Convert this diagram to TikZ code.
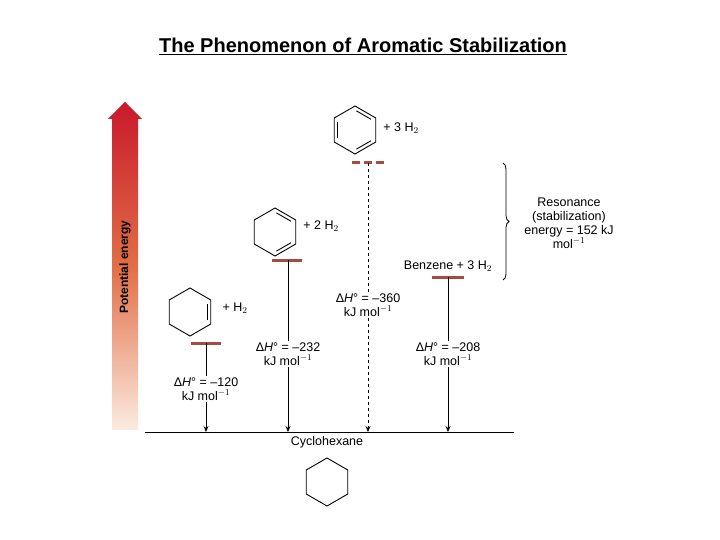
\documentclass[tikz,border=0pt]{standalone}
\usepackage{fontspec}
\setmainfont{Liberation Sans}
\usetikzlibrary{decorations.pathreplacing,arrows.meta,calc}
\definecolor{lvl}{RGB}{165,75,65}
\definecolor{topred}{RGB}{200,25,45}
\definecolor{botpale}{RGB}{252,235,225}
\begin{document}
\begin{tikzpicture}[x=1pt,y=-1pt,
  lab/.style={font=\fontsize{12.5}{14}\selectfont,align=center,inner sep=1pt},
  level/.style={draw=lvl,line width=3pt},
  drop/.style={draw,line width=0.8pt,-{Stealth[length=6pt,width=5pt]}},
  ring/.style={line width=0.9pt}]
\useasboundingbox (0,0) rectangle (720,540);
\node[font=\bfseries\fontsize{20}{24}\selectfont] (title) at (363,46) {\underline{The Phenomenon of Aromatic Stabilization}};
\shade[bottom color=botpale, top color=topred, middle color={rgb,255:red,225;green,110;blue,70}]
  (112,430) -- (112,119) -- (108,119) -- (125,102) -- (142,119) -- (138,119) -- (138,430) -- cycle;
\node[rotate=90,font=\bfseries\fontsize{12}{14}\selectfont] (pe) at (125,267) {Potential energy};
\draw[line width=0.8pt] (145,432) -- (514,432);
\coordinate (b1) at (206,432); \coordinate (b2) at (288,432);
\coordinate (b3) at (368,432); \coordinate (b4) at (448,432);
\draw[level] (191,343) -- (221,343);
\draw[level] (272,260) -- (302,260);
\draw[level,dash pattern=on 8pt off 4pt] (352,163) -- (384,163);
\draw[level] (432,277) -- (464,277);
\coordinate (t1) at (206,343); \coordinate (t2) at (288,260);
\coordinate (t3) at (368,163); \coordinate (t4) at (448,277);
\node[lab] (d1) at (206,389) {Δ\textit{H}° = –120\\kJ mol$^{-1}$};
\node[lab] (d2) at (288,354) {Δ\textit{H}° = –232\\kJ mol$^{-1}$};
\node[lab] (d3) at (368,305) {Δ\textit{H}° = –360\\kJ mol$^{-1}$};
\node[lab] (d4) at (448,354) {Δ\textit{H}° = –208\\kJ mol$^{-1}$};
\draw[line width=0.8pt] (t1) -- (d1.north);
\draw[drop] (d1.south) -- (b1);
\draw[line width=0.8pt] (t2) -- (d2.north);
\draw[drop] (d2.south) -- (b2);
\draw[line width=0.8pt,dashed] (t3) -- (d3.north);
\draw[drop,dashed] (d3.south) -- (b3);
\draw[line width=0.8pt] (t4) -- (d4.north);
\draw[drop] (d4.south) -- (b4);
\node[lab] (cyc) at (327,442) {Cyclohexane};
\node[lab] (bz) at (448,266) {Benzene + 3 H$_2$};
\node[lab] (p1) at (235,308) {+ H$_2$};
\node[lab] (p2) at (321,226) {+ 2 H$_2$};
\node[lab] (p3) at (401,128) {+ 3 H$_2$};
\draw[line width=0.8pt,decorate,decoration={brace,amplitude=6pt}] (503,163) -- (503,280);
\node[lab] (res) at (569,223) {Resonance\\(stabilization)\\energy = 152 kJ\\mol$^{-1}$};
\def\R{24}
\begin{scope}[shift={(190,312)}]
\draw[ring] (90:\R)--(30:\R)--(-30:\R)--(-90:\R)--(-150:\R)--(150:\R)--cycle;
\draw[ring] ($(30:\R)!0.15!(-30:\R)+(-3.5,0)$) -- ($(-30:\R)!0.15!(30:\R)+(-3.5,0)$);
\end{scope}
\begin{scope}[shift={(275,232)}]
\draw[ring] (90:\R)--(30:\R)--(-30:\R)--(-90:\R)--(-150:\R)--(150:\R)--cycle;
\draw[ring] ($(90:\R)!0.15!(30:\R)+(-120:3.5)$) -- ($(30:\R)!0.15!(90:\R)+(-120:3.5)$);
\draw[ring] ($(-30:\R)!0.15!(-90:\R)+(120:3.5)$) -- ($(-90:\R)!0.15!(-30:\R)+(120:3.5)$);
\end{scope}
\begin{scope}[shift={(355,130)}]
\draw[ring] (90:\R)--(30:\R)--(-30:\R)--(-90:\R)--(-150:\R)--(150:\R)--cycle;
\draw[ring] ($(90:\R)!0.15!(30:\R)+(-120:3.5)$) -- ($(30:\R)!0.15!(90:\R)+(-120:3.5)$);
\draw[ring] ($(-30:\R)!0.15!(-90:\R)+(120:3.5)$) -- ($(-90:\R)!0.15!(-30:\R)+(120:3.5)$);
\draw[ring] ($(-150:\R)!0.15!(150:\R)+(3.5,0)$) -- ($(150:\R)!0.15!(-150:\R)+(3.5,0)$);
\end{scope}
\begin{scope}[shift={(327,482)}]
\draw[ring] (90:\R)--(30:\R)--(-30:\R)--(-90:\R)--(-150:\R)--(150:\R)--cycle;
\end{scope}
\end{tikzpicture}
\end{document}
